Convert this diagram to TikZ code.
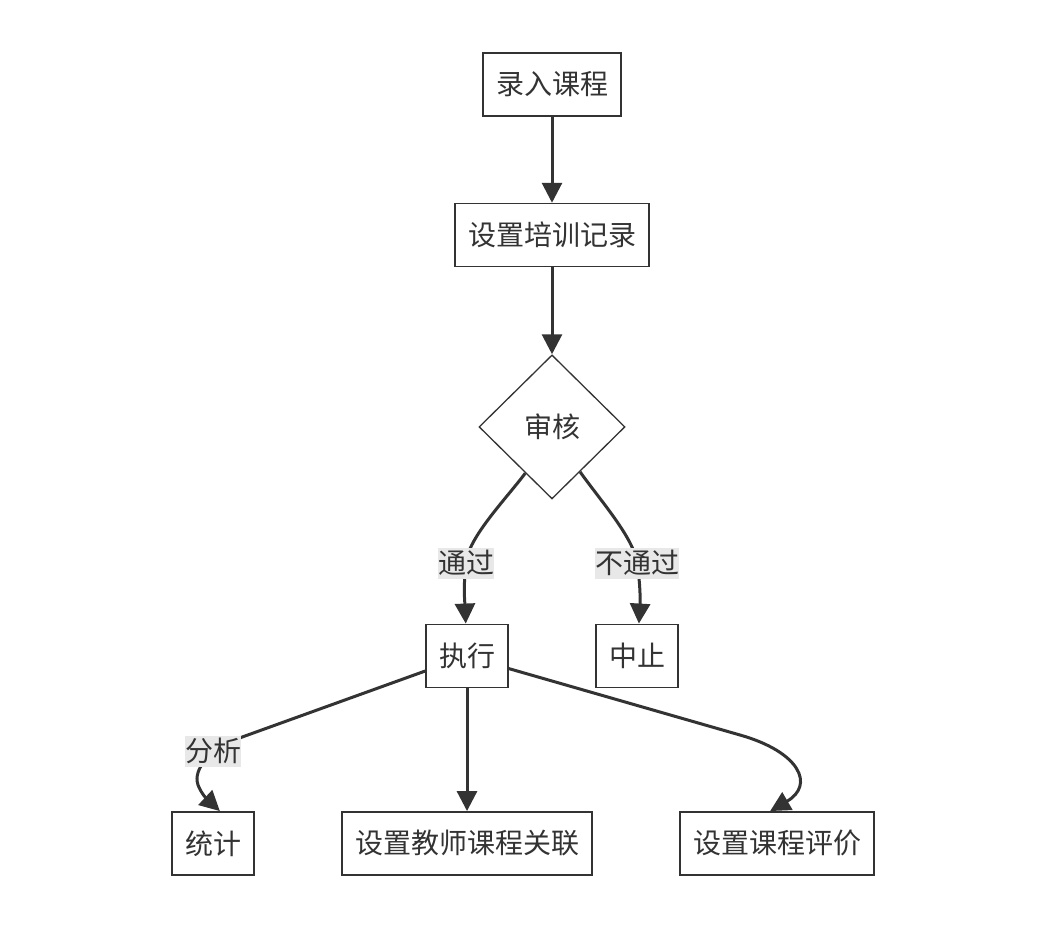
\documentclass[tikz,border=0pt]{standalone}
\usepackage{fontspec}
\setmainfont{Noto Sans CJK SC}
\usepackage{xcolor}
\usepackage{tikz}
\usetikzlibrary{shapes.geometric, arrows.meta, positioning}
\definecolor{ink}{HTML}{333333}
\definecolor{labelbg}{HTML}{E8E8E8}

\begin{document}
\begin{tikzpicture}[x=1pt, y=-1pt, >={Triangle[length=20pt, width=20pt]}, every node/.style={font=\fontsize{28pt}{34pt}\selectfont, text=ink}]
    \tikzstyle{task} = [rectangle, draw=ink, fill=white, minimum height=63pt, inner xsep=13pt, inner ysep=0pt, line width=1.5pt]
    \tikzstyle{check} = [diamond, draw=ink, fill=white, minimum width=146pt, minimum height=144pt, inner sep=0pt, line width=1.3pt]
    \tikzstyle{tag} = [rectangle, fill=labelbg, inner sep=0pt, minimum height=31pt]
    \tikzstyle{flow} = [draw=ink, ->, line width=3pt]

    \fill [white] (0,0) rectangle (1046,932);
    \useasboundingbox (0,0) rectangle (1046,932);

    \node [task] (entry) at (552,84.5) {录入课程};
    \node [task, below=86pt of entry] (train) {设置培训记录};
    \node [check, below=87pt of train] (review) {审核};

    \node [task, below=124pt of review, xshift=-85pt] (exec) {执行};
    \node [task, below=124pt of review, xshift=85pt] (stop) {中止};

    \node [task, below=123pt of exec] (link) {设置教师课程关联};
    \node [task, below=123pt of exec, xshift=-254pt] (stats) {统计};
    \node [task, below=123pt of exec, xshift=310pt] (rate) {设置课程评价};

    \coordinate (passpt) at (466,563);
    \coordinate (failpt) at (637,563);
    \coordinate (analpt) at (213,751);

    \path [flow] (entry) -- (train);
    \path [flow] (train) -- (review);

    \path [flow] (review.-120) .. controls (505,500) and (468,538) .. (passpt) .. controls (463,588) and (465,605) .. (exec);
    \path [flow] (review.-58) .. controls (600,500) and (634,538) .. (failpt) .. controls (641,588) and (640,605) .. (stop);

    \path [flow] (exec.-160) -- (245,736) .. controls (200,752) and (194,775) .. (198,785) .. controls (202,795) and (208,800) .. (stats.78);
    \path [flow] (exec) -- (link);
    \path [flow] (exec.-17) -- (740,735) .. controls (800,752) and (815,785) .. (rate.102);

    \node [tag] (passlbl) at (passpt) {通过};
    \node [tag] (faillbl) at (failpt) {不通过};
    \node [tag] (anallbl) at (analpt) {分析};
\end{tikzpicture}
\end{document}
